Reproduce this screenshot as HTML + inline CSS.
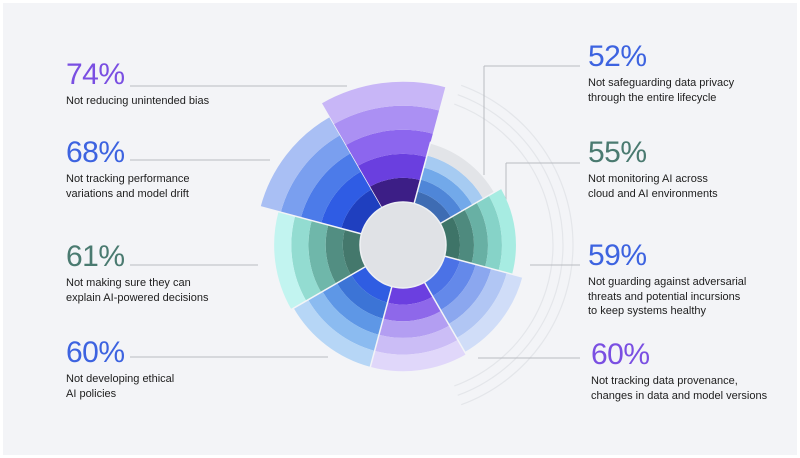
<!DOCTYPE html>
<html><head><meta charset="utf-8"><style>
html,body{margin:0;padding:0;width:800px;height:458px;overflow:hidden;background:#fff;font-family:"Liberation Sans",sans-serif}
#card{position:absolute;left:3px;top:3px;width:794px;height:452px;background:#f3f4f7}
.lbl{position:absolute;color:#222}
.pct{font-size:30px;line-height:30px;letter-spacing:-0.5px}
.desc{font-size:11px;line-height:14.5px;margin-top:4px;color:#1d1d1d}
svg{position:absolute;left:0;top:0}
</style></head><body>
<div id="card"></div>
<svg id="chart" width="800" height="458"></svg>
<div class="lbl" style="left:66px;top:60px"><div class="pct" style="color:#7a4fe2">74%</div><div class="desc">Not reducing unintended bias</div></div>
<div class="lbl" style="left:66px;top:138px"><div class="pct" style="color:#3d63e0">68%</div><div class="desc">Not tracking performance<br>variations and model drift</div></div>
<div class="lbl" style="left:66px;top:242px"><div class="pct" style="color:#4a7a70">61%</div><div class="desc">Not making sure they can<br>explain AI-powered decisions</div></div>
<div class="lbl" style="left:66px;top:338px"><div class="pct" style="color:#3d63e0">60%</div><div class="desc">Not developing ethical<br>AI policies</div></div>
<div class="lbl" style="left:588px;top:42px"><div class="pct" style="color:#3d63e0">52%</div><div class="desc">Not safeguarding data privacy<br>through the entire lifecycle</div></div>
<div class="lbl" style="left:588px;top:138px"><div class="pct" style="color:#4a7a70">55%</div><div class="desc">Not monitoring AI across<br>cloud and AI environments</div></div>
<div class="lbl" style="left:588px;top:241px"><div class="pct" style="color:#3d63e0">59%</div><div class="desc">Not guarding against adversarial<br>threats and potential incursions<br>to keep systems healthy</div></div>
<div class="lbl" style="left:591px;top:340px"><div class="pct" style="color:#7a4fe2">60%</div><div class="desc">Not tracking data provenance,<br>changes in data and model versions</div></div>
<script>
// data (clockwise from top)
const categories=["bias","privacy","monitoring","adversarial","provenance","ethics","explain","drift"];
const values=[74,52,55,59,60,60,61,68];
const palettes=[
["#3c1e86","#6a3fdf","#8c66ee","#ab90f3","#c8b6f7"],
["#3e6cb3","#4f86d8","#72a9ea","#a6cbf2","#e2e4e8"],
["#3e7468","#4e8a7e","#68b0a4","#86d3c8","#a7ece2"],
["#4b72e6","#6489ea","#8ba7ef","#b1c6f4","#d0ddf8"],
["#6b3fe0","#8e68ea","#b39ef2","#cbbdf6","#e0d7fa"],
["#2f5de2","#3c74d6","#5e97e6","#8bbbf0","#b6d6f6"],
["#44786c","#528e82","#6fb7aa","#93dcd1","#c2f4f0"],
["#1f3fbf","#2f5ce4","#4c7be9","#7a9fef","#a9bff4"]];
const cx=403,cy=245,r0=43;
function rScale(v){return 105+(v-52)*2.65;}
function angle(i){return (-30+45*i)*Math.PI/180;}
const svg=document.getElementById('chart');
const NS='http://www.w3.org/2000/svg';
function pt(r,a){return [cx+r*Math.sin(a),cy-r*Math.cos(a)];}
function arcPath(ri,ro,a0,a1){
 const p1=pt(ro,a0),p2=pt(ro,a1),p3=pt(ri,a1),p4=pt(ri,a0);
 return `M${p1[0]},${p1[1]}A${ro},${ro} 0 0 1 ${p2[0]},${p2[1]}L${p3[0]},${p3[1]}A${ri},${ri} 0 0 0 ${p4[0]},${p4[1]}Z`;}
// faint guide rings on right side
[150,160,170].forEach(function(r){
 const a0=20*Math.PI/180,a1=160*Math.PI/180;const p1=pt(r,a0),p2=pt(r,a1);
 const c=document.createElementNS(NS,'path');
 c.setAttribute('d',`M${p1[0]},${p1[1]}A${r},${r} 0 0 1 ${p2[0]},${p2[1]}`);
 c.setAttribute('fill','none');c.setAttribute('stroke','#e4e6ea');c.setAttribute('stroke-width','1.2');
 
 
 svg.appendChild(c);});
// leader lines
const leaders=[[347,86,130,86],[270,160,130,160],[258,265,130,265],[328,357,130,357],
[484,66,580,66],[484,66,484,175],[506,163,580,163],[506,163,506,205],[530,265,580,265],[478,358,580,358]];
leaders.forEach(function(l){const e=document.createElementNS(NS,'line');
 e.setAttribute('x1',l[0]);e.setAttribute('y1',l[1]);e.setAttribute('x2',l[2]);e.setAttribute('y2',l[3]);
 e.setAttribute('stroke','#b8bbc0');e.setAttribute('stroke-width','1');
 
 
 svg.appendChild(e);});
values.forEach(function(v,i){
 const ro=rScale(v),a0=angle(i),a1=angle(i+1);
 const g=document.createElementNS(NS,'g');
 
 
 const pal=palettes[i],n=pal.length;
 for(let b=0;b<n;b++){
  const ri=r0+(ro-r0)*b/n,rb=r0+(ro-r0)*(b+1)/n;
  const p=document.createElementNS(NS,'path');
  p.setAttribute('d',arcPath(ri,rb,a0,a1));
  p.setAttribute('fill',pal[b]);
  
  
  g.appendChild(p);}
 svg.appendChild(g);
 const s=document.createElementNS(NS,'line');const q=pt(ro+2,a0),q0=pt(r0,a0);
 s.setAttribute('x1',q0[0]);s.setAttribute('y1',q0[1]);s.setAttribute('x2',q[0]);s.setAttribute('y2',q[1]);
 s.setAttribute('stroke','#f3f4f7');s.setAttribute('stroke-width','1.5');
 
 
 svg.appendChild(s);});
const c=document.createElementNS(NS,'circle');
c.setAttribute('cx',cx);c.setAttribute('cy',cy);c.setAttribute('r',r0);c.setAttribute('fill','#e0e2e6');
c.setAttribute('stroke','#eef0f3');c.setAttribute('stroke-width','1.5');


svg.appendChild(c);
</script>
</body></html>
